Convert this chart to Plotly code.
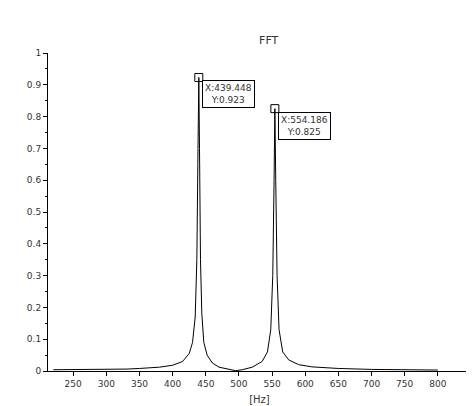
import plotly.graph_objects as go

# spectrum
freq = [220, 260, 300, 330, 350, 380, 400, 415, 425, 430, 434, 436.5, 438, 439.448,
        440.5, 442, 444, 447, 452, 460, 470, 485, 495, 505, 520, 535, 543, 548, 551,
        553, 554.186, 555.5, 557.5, 560.5, 566, 575, 590, 610, 650, 700, 750, 800]
mag = [0.004, 0.004, 0.005, 0.006, 0.008, 0.012, 0.018, 0.03, 0.055, 0.09, 0.17, 0.35,
       0.65, 0.923, 0.7, 0.35, 0.18, 0.09, 0.05, 0.025, 0.012, 0.004, 0.001, 0.004,
       0.012, 0.03, 0.06, 0.13, 0.3, 0.6, 0.825, 0.6, 0.3, 0.13, 0.06, 0.035, 0.02,
       0.013, 0.008, 0.005, 0.004, 0.003]
peak_x = [439.448, 554.186]
peak_y = [0.923, 0.825]
y_ticks = [0, 0.1, 0.2, 0.3, 0.4, 0.5, 0.6, 0.7, 0.8, 0.9, 1]
x_ticks = [250, 300, 350, 400, 450, 500, 550, 600, 650, 700, 750, 800]

fig = go.Figure()
fig.add_trace(go.Scatter(x=freq, y=mag, mode='lines',
                         line=dict(color='black', width=1), showlegend=False))
fig.add_trace(go.Scatter(x=peak_x, y=peak_y, mode='markers',
                         marker=dict(symbol='square-open', size=8, color='black',
                                     line=dict(width=1)),
                         showlegend=False))

for px_, py_ in zip(peak_x, peak_y):
    fig.add_annotation(x=px_, y=py_, xref='x', yref='y',
                       text=f"X:{px_:g}<br>Y:{py_:g}", showarrow=False,
                       xanchor='left', yanchor='top', xshift=3, yshift=-3,
                       align='center', bgcolor='white', bordercolor='black',
                       borderwidth=1, borderpad=2,
                       font=dict(family='DejaVu Sans', size=9, color='#333'))

axis_common = dict(showgrid=False, zeroline=False, showline=True, linecolor='black',
                   linewidth=1, ticks='outside', ticklen=4, tickcolor='black',
                   automargin=False,
                   tickfont=dict(family='DejaVu Sans', size=9, color='#333'),
                   minor=dict(ticks='outside', ticklen=2, tickcolor='black'))

fig.update_layout(
    width=474, height=406,
    paper_bgcolor='white', plot_bgcolor='white',
    margin=dict(l=40, r=11, t=45, b=43),
    title=dict(text='FFT', x=0.55, y=0.93, xanchor='center',
               font=dict(family='DejaVu Sans', size=11, color='#333')),
    xaxis=dict(range=[212, 850], tickvals=x_ticks,
               title=dict(text='[Hz]', standoff=8,
                          font=dict(family='DejaVu Sans', size=10, color='#333')),
               **axis_common),
    yaxis=dict(range=[0, 1], tickvals=y_ticks, ticktext=[f"{v:g}" for v in y_ticks],
               **axis_common),
)

fig.write_html("out.html")
